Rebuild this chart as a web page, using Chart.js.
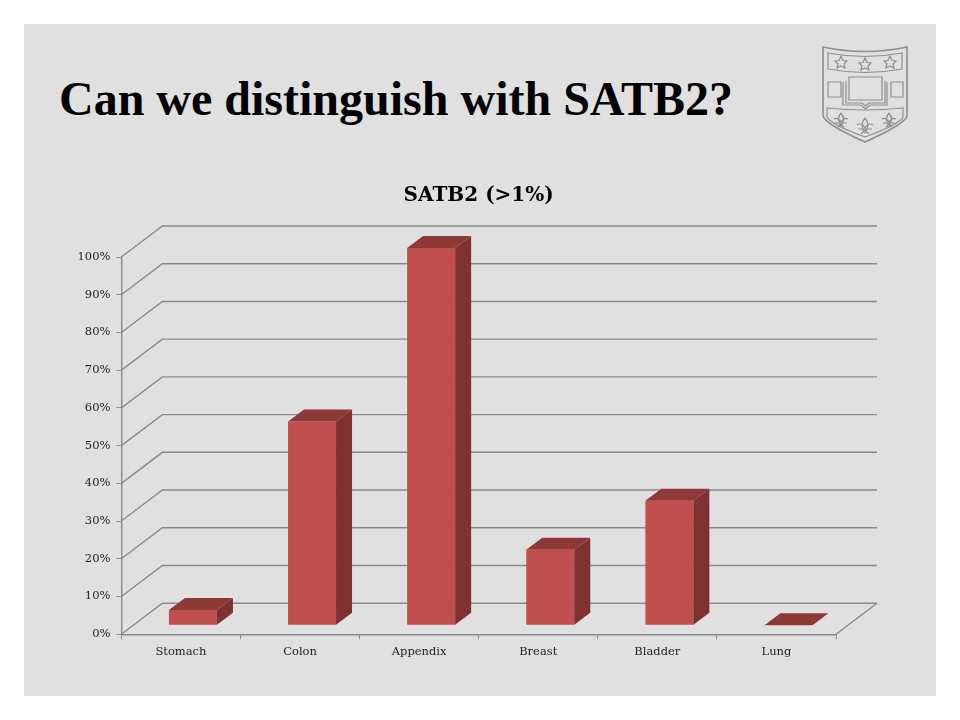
<!DOCTYPE html>
<html lang="en">
<head>
    <meta charset="UTF-8">
    <title>Can we distinguish with SATB2?</title>
    <script src="https://cdn.jsdelivr.net/npm/chart.js"></script>
    <style>
        body { margin: 0; background: #fff; }
        #slide { position: absolute; left: 24px; top: 24px; width: 912px; height: 672px; background: #e0e0e0; }
        #heading { position: absolute; left: 59px; top: 71px; margin: 0; font: bold 48px "Liberation Serif", serif; color: #000; white-space: nowrap; }
        #crest { position: absolute; left: 0; top: 0; }
        #satbChart { position: absolute; left: 0; top: 0; }
    </style>
</head>
<body>
    <div id="slide"></div>
    <h1 id="heading">Can we distinguish with SATB2?</h1>

    <svg id="crest" width="960" height="180" fill="none" stroke="#8e8e8e" stroke-width="1.2">
        <path d="M823 47 Q865 56 907 47 V116 Q905 124 865 142 Q825 124 823 116 Z" stroke-width="1.6"/>
        <path d="M828 53 Q865 60 902 53 V69 Q865 76 828 69 Z"/>
        <path d="M828 82 H841 V97 H828 Z M891 82 H903 V97 H891 Z"/>
        <path d="M849 77 H882 V100 H849 Z"/>
        <path d="M846 81 V103 H862 L865.500 106 L869 103 H885 V81 M843 82 V105 H861 L865.500 109 L870 105 H887 V82"/>
        <path d="M827 108 Q865 112 903 108 V117 Q900 124 865 137 Q830 124 827 117 Z"/>
        <g id="stars">
            <path d="M841 56 L843 60.500 L847 61 L844 64 L845 68 L841 66 L837 68 L838 64 L835 61 L839 60.500 Z"/>
            <path d="M865 58 L867 62.500 L871 63 L868 66 L869 70 L865 68 L861 70 L862 66 L859 63 L863 62.500 Z"/>
            <path d="M890 56 L892 60.500 L896 61 L893 64 L894 68 L890 66 L886 68 L887 64 L884 61 L888 60.500 Z"/>
        </g>
        <path d="M841 113 Q846 119 841 126 Q836 119 841 113 M834 119 Q838 117 841 122 Q844 117 848 119 M835 123 H847 M838 127 L841 124 L844 127"/>
        <path d="M865 118 Q871 125 865 133 Q859 125 865 118 M857 125 Q862 122 865 128 Q868 122 873 125 M858 129 H872 M861 134 L865 130 L869 134"/>
        <path d="M889 113 Q894 119 889 126 Q884 119 889 113 M882 119 Q886 117 889 122 Q892 117 896 119 M883 123 H895 M886 127 L889 124 L892 127"/>
    </svg>

    <canvas id="satbChart" width="960" height="720"></canvas>

    <script>
        const categories = ['Stomach', 'Colon', 'Appendix', 'Breast', 'Bladder', 'Lung'];
        const satb2Values = [4, 54, 100, 20, 33, 0];
        const yTicks = [0, 10, 20, 30, 40, 50, 60, 70, 80, 90, 100];

        const GRID_COLOR = '#8a8a8a';
        const WALL_DX = 41, WALL_DY = -31;   // how far the back wall sits behind the axes
        const BAR_DX = 12, BAR_DY = -9;      // bars stand in the middle of the floor
        const DEPTH_DX = 16, DEPTH_DY = -12; // depth of a bar

        function fillShape(ctx, color, pts) {
            ctx.fillStyle = color;
            ctx.beginPath();
            pts.forEach((p, i) => i ? ctx.lineTo(p[0], p[1]) : ctx.moveTo(p[0], p[1]));
            ctx.closePath();
            ctx.fill();
        }

        const fake3d = {
            id: 'fake3d',
            beforeDatasetsDraw(chart) {
                const { ctx, scales: { x, y } } = chart;
                ctx.save();
                ctx.strokeStyle = GRID_COLOR;
                ctx.lineWidth = 1.4;
                yTicks.forEach(v => {
                    const py = y.getPixelForValue(v);
                    ctx.beginPath();
                    ctx.moveTo(x.left, py);
                    ctx.lineTo(x.left + WALL_DX, py + WALL_DY);
                    ctx.lineTo(x.right + WALL_DX, py + WALL_DY);
                    ctx.stroke();
                });
                // right edge of the floor
                const y0 = y.getPixelForValue(0);
                ctx.beginPath();
                ctx.moveTo(x.right, y0);
                ctx.lineTo(x.right + WALL_DX, y0 + WALL_DY);
                ctx.stroke();
                ctx.restore();
            },
            beforeDatasetDraw(chart) {
                chart.ctx.save();
                chart.ctx.translate(BAR_DX, BAR_DY);
            },
            afterDatasetDraw(chart, args) {
                const ctx = chart.ctx;
                args.meta.data.forEach(bar => {
                    const p = bar.getProps(['x', 'y', 'base', 'width'], true);
                    const l = p.x - p.width / 2, r = p.x + p.width / 2;
                    fillShape(ctx, '#7d3130', [[r, p.y], [r + DEPTH_DX, p.y + DEPTH_DY], [r + DEPTH_DX, p.base + DEPTH_DY], [r, p.base]]);
                    fillShape(ctx, '#8e3937', [[l, p.y], [l + DEPTH_DX, p.y + DEPTH_DY], [r + DEPTH_DX, p.y + DEPTH_DY], [r, p.y]]);
                });
                ctx.restore();
            }
        };

        new Chart(document.getElementById('satbChart'), {
            type: 'bar',
            data: {
                labels: categories,
                datasets: [{
                    label: 'SATB2 (>1%)',
                    data: satb2Values,
                    backgroundColor: '#c0504d',
                    categoryPercentage: 1,
                    barPercentage: 0.403
                }]
            },
            options: {
                responsive: false,
                animation: false,
                layout: { padding: { left: 71.5, right: 124, top: 184, bottom: 55 } },
                plugins: {
                    legend: { display: false },
                    tooltip: { enabled: false },
                    title: {
                        display: true,
                        fullSize: false,
                        text: 'SATB2 (>1%)',
                        color: '#000',
                        font: { family: '"DejaVu Serif"', size: 20, weight: 'bold' },
                        padding: { top: 0, bottom: 49 }
                    }
                },
                scales: {
                    x: {
                        border: { color: GRID_COLOR, width: 1.4 },
                        grid: { drawOnChartArea: false, color: GRID_COLOR, tickLength: 5 },
                        ticks: { color: '#222', padding: 6, font: { family: '"DejaVu Serif"', size: 11.5 } }
                    },
                    y: {
                        min: 0,
                        max: 100,
                        border: { color: GRID_COLOR, width: 1.4 },
                        grid: { drawOnChartArea: false, color: GRID_COLOR, tickLength: 5 },
                        ticks: {
                            stepSize: 10,
                            color: '#222',
                            padding: 6,
                            font: { family: '"DejaVu Serif"', size: 11.5 },
                            callback: v => v + '%'
                        }
                    }
                }
            },
            plugins: [fake3d]
        });
    </script>
</body>
</html>
